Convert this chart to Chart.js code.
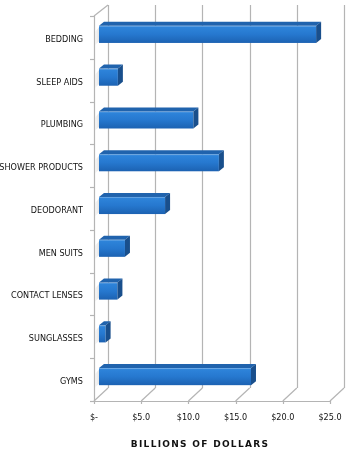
<!DOCTYPE html>
<html>
<head>
<meta charset="utf-8">
<script src="https://cdn.jsdelivr.net/npm/chart.js@4"></script>
<style>
html,body{margin:0;padding:0;background:#fff;}
#wrap{width:356px;height:463px;position:relative;}
</style>
</head>
<body>
<div id="wrap"><canvas id="c" width="356" height="463"></canvas></div>
<script>
const categories = ["BEDDING","SLEEP AIDS","PLUMBING","SHOWER PRODUCTS","DEODORANT","MEN SUITS","CONTACT LENSES","SUNGLASSES","GYMS"];
const values = [23.0, 2.0, 10.0, 12.7, 7.0, 2.75, 1.95, 0.7, 16.1];
const xTicks = [0, 5, 10, 15, 20, 25];
const axisTitle = "BILLIONS OF DOLLARS";

const FRONT = {dx:-5, dy:3};
const BACK = {dx:9, dy:-10};
const BAR_D = {dx:5, dy:-4};
const TARGET = {left:99, right:335, top:13, bottom:398};
const LABEL_FONT = '"DejaVu Sans Condensed", "Liberation Sans", sans-serif';

const wallPlugin = {
  id:'wall3d',
  beforeDatasetsDraw(chart){
    const {ctx, chartArea:a, scales:{x}} = chart;
    ctx.save();
    ctx.strokeStyle = '#b4b4b4';
    ctx.lineWidth = 1.2;
    const topB = a.top - 8, botB = a.bottom + BACK.dy;
    const topF = a.top + FRONT.dy, botF = a.bottom + FRONT.dy;
    xTicks.forEach(v=>{
      const px = Math.round(x.getPixelForValue(v) + BACK.dx) + 0.5;
      ctx.beginPath(); ctx.moveTo(px, topB); ctx.lineTo(px, botB); ctx.stroke();
    });
    xTicks.forEach(v=>{
      const fx = x.getPixelForValue(v) + FRONT.dx;
      const bx = x.getPixelForValue(v) + BACK.dx;
      ctx.beginPath(); ctx.moveTo(fx, botF); ctx.lineTo(bx, botB); ctx.stroke();
    });
    const f0 = x.getPixelForValue(0) + FRONT.dx;
    const f1 = x.getPixelForValue(25) + FRONT.dx;
    ctx.beginPath(); ctx.moveTo(f0-3, Math.round(botF)+0.5); ctx.lineTo(f1, Math.round(botF)+0.5); ctx.stroke();
    ctx.beginPath(); ctx.moveTo(Math.round(f0)+0.5, topF); ctx.lineTo(Math.round(f0)+0.5, botF); ctx.stroke();
    const b0 = x.getPixelForValue(0) + BACK.dx;
    ctx.beginPath(); ctx.moveTo(f0, topF); ctx.lineTo(b0, topB); ctx.stroke();
    const n = categories.length;
    for(let i=0;i<=n;i++){
      const yy = Math.round(topF + (botF-topF)*i/n) + 0.5;
      ctx.beginPath(); ctx.moveTo(f0-4, yy); ctx.lineTo(f0, yy); ctx.stroke();
    }
    xTicks.forEach(v=>{
      const fx = Math.round(x.getPixelForValue(v) + FRONT.dx)+0.5;
      ctx.beginPath(); ctx.moveTo(fx, botF); ctx.lineTo(fx, botF+3); ctx.stroke();
    });
    const meta = chart.getDatasetMeta(0);
    meta.data.forEach(bar=>{
      const h = bar.height;
      const t = bar.y - h/2, bt = bar.y + h/2;
      const g = ctx.createLinearGradient(f0, 0, b0, 0);
      g.addColorStop(0,'rgba(150,150,150,0.0)');
      g.addColorStop(0.5,'rgba(150,150,150,0.35)');
      g.addColorStop(1,'rgba(150,150,150,0.0)');
      ctx.fillStyle = g;
      ctx.beginPath();
      ctx.moveTo(f0+1, t+6); ctx.lineTo(b0-4, t-4); ctx.lineTo(b0-4, bt-6); ctx.lineTo(f0+1, bt+2);
      ctx.closePath(); ctx.fill();
    });
    ctx.restore();
  },
  afterDatasetsDraw(chart){
    const {ctx} = chart;
    const meta = chart.getDatasetMeta(0);
    ctx.save();
    meta.data.forEach(bar=>{
      const h = bar.height;
      const t = bar.y - h/2, bt = bar.y + h/2;
      const l = bar.base, r = bar.x;
      const g = ctx.createLinearGradient(0, t, 0, bt);
      g.addColorStop(0,'#2f86dc');
      g.addColorStop(0.5,'#2678cf');
      g.addColorStop(1,'#1c62b2');
      ctx.fillStyle = g;
      ctx.fillRect(l, t, r-l, h);
      ctx.fillStyle = '#2063ad';
      ctx.beginPath();
      ctx.moveTo(l, t); ctx.lineTo(r, t); ctx.lineTo(r+BAR_D.dx, t+BAR_D.dy); ctx.lineTo(l+BAR_D.dx, t+BAR_D.dy);
      ctx.closePath(); ctx.fill();
      ctx.fillStyle = '#194f8c';
      ctx.beginPath();
      ctx.moveTo(r, t); ctx.lineTo(r+BAR_D.dx, t+BAR_D.dy); ctx.lineTo(r+BAR_D.dx, bt+BAR_D.dy); ctx.lineTo(r, bt);
      ctx.closePath(); ctx.fill();
      ctx.strokeStyle = 'rgba(255,255,255,0.25)';
      ctx.lineWidth = 1;
      ctx.beginPath(); ctx.moveTo(l, t+0.5); ctx.lineTo(r, t+0.5); ctx.stroke();
    });
    ctx.restore();
  },
  afterDraw(chart){
    const {ctx, scales:{x}} = chart;
    ctx.save();
    ctx.font = 'bold 9px "DejaVu Sans"';
    if ('letterSpacing' in ctx) ctx.letterSpacing = '1.3px';
    ctx.fillStyle = '#111';
    ctx.textAlign = 'center';
    ctx.textBaseline = 'middle';
    const cx = (x.getPixelForValue(0) + x.getPixelForValue(25))/2 - 17;
    ctx.fillText(axisTitle, cx, 445);
    ctx.restore();
  }
};

function zeroPad(scale){
  scale.paddingTop = 0; scale.paddingBottom = 0;
  scale.paddingLeft = 0; scale.paddingRight = 0;
}

const chart = new Chart(document.getElementById('c'), {
  type:'bar',
  data:{
    labels: categories,
    datasets:[{
      data: values,
      backgroundColor:'rgba(0,0,0,0)',
      borderWidth:0,
      categoryPercentage:1.0,
      barPercentage:0.4
    }]
  },
  options:{
    indexAxis:'y',
    responsive:false,
    animation:false,
    devicePixelRatio:1,
    layout:{padding:{top:TARGET.top, right:356-TARGET.right, left:0, bottom:0}},
    plugins:{legend:{display:false}, tooltip:{enabled:false}},
    scales:{
      x:{
        min:0, max:25,
        afterBuildTicks(scale){ scale.ticks = xTicks.map(v=>({value:v})); },
        afterFit(scale){ zeroPad(scale); scale.height = 463 - TARGET.bottom; },
        grid:{display:false, drawTicks:false},
        border:{display:false},
        ticks:{
          padding:14,
          labelOffset:-5,
          color:'#111',
          font:{family:LABEL_FONT, size:9},
          callback:(v)=> v===0 ? '$-' : '$'+Number(v).toFixed(1)
        }
      },
      y:{
        afterFit(scale){ zeroPad(scale); scale.width = TARGET.left; },
        grid:{display:false, drawTicks:false},
        border:{display:false},
        ticks:{
          padding:16,
          labelOffset:5,
          color:'#111',
          font:{family:LABEL_FONT, size:9}
        }
      }
    }
  },
  plugins:[wallPlugin]
});
</script>
</body>
</html>
